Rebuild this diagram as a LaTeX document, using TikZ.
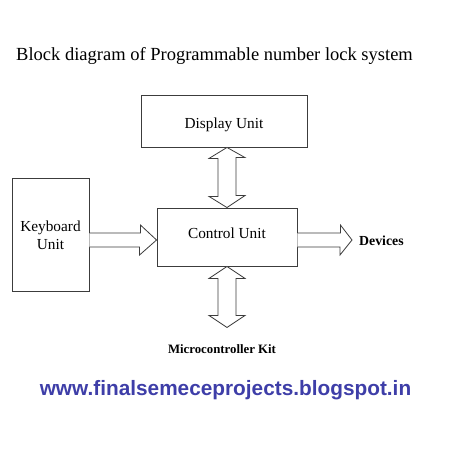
\documentclass[tikz,border=0pt]{standalone}
\usepackage{fontspec}
\setmainfont{Liberation Serif}
\newfontfamily\urlfont{Liberation Sans}
\definecolor{urlblue}{RGB}{62,62,168}
\definecolor{linegray}{RGB}{60,60,60}
\begin{document}
\begin{tikzpicture}[x=1pt,y=-1pt,
  box/.style={draw=linegray,line width=0.9pt,rectangle,align=center,inner sep=0pt},
  barrow/.style={draw=linegray,line width=0.8pt,fill=white,line join=miter},
  lbl/.style={font=\fontsize{15.3}{18}\selectfont}]
\useasboundingbox (0,0) rectangle (458,451);
\node[anchor=west,inner sep=0pt,font=\fontsize{18.5}{22}\selectfont] (title) at (16,55.5) {Block diagram of Programmable number lock system};
\node[box,minimum width=166pt,minimum height=52pt] (disp) at (224,121) {};
\node[lbl] (disptxt) at (224,125) {Display Unit};
\node[box,minimum width=140pt,minimum height=58pt] (ctrl) at (227,237) {};
\node[lbl] (ctrltxt) at (227,233) {Control Unit};
\node[box,minimum width=77pt,minimum height=113pt,lbl] (kbd) at (50.5,235) {Keyboard\\Unit};
\node[anchor=west,inner sep=0pt,font=\bfseries\fontsize{13.8}{16}\selectfont] (dev) at (359,241) {Devices};
\node[font=\bfseries\fontsize{12.8}{15}\selectfont] (kit) at (222,349) {Microcontroller Kit};
\node[font=\urlfont\bfseries\fontsize{20.8}{24}\selectfont,text=urlblue] (url) at (225.5,390) {www.finalsemeceprojects.blogspot.in};
% upper double arrow: display <-> control
\coordinate (ut) at (ctrl.north |- disp.south);
\draw[barrow] (ut) -- ++(-18,11) -- ++(9,0) -- ++(0,38) -- ++(-9,0) -- (ctrl.north) -- ++(18,-12) -- ++(-9,0) -- ++(0,-38) -- ++(9,0) -- cycle;
% lower double arrow: control <-> microcontroller kit
\coordinate (lt) at ([yshift=-61pt]ctrl.south);
\draw[barrow] (ctrl.south) -- ++(-18,12) -- ++(9,0) -- ++(0,37) -- ++(-9,0) -- (lt) -- ++(18,-12) -- ++(-9,0) -- ++(0,-37) -- ++(9,0) -- cycle;
% keyboard -> control
\coordinate (kout) at (kbd.east |- 0,240);
\coordinate (kin) at (ctrl.west |- 0,240);
\draw[barrow] ([yshift=7pt]kout) -- ++(51,0) -- ++(0,-8) -- (kin) -- ++(-17,15) -- ++(0,-8) -- ([yshift=-7pt]kout);
% control -> devices
\coordinate (cout) at (ctrl.east |- 0,240);
\coordinate (dtip) at (352,240);
\draw[barrow] ([yshift=7pt]cout) -- ++(43,0) -- ++(0,-8) -- (dtip) -- ++(-12,15) -- ++(0,-8) -- ([yshift=-7pt]cout);
\end{tikzpicture}
\end{document}
